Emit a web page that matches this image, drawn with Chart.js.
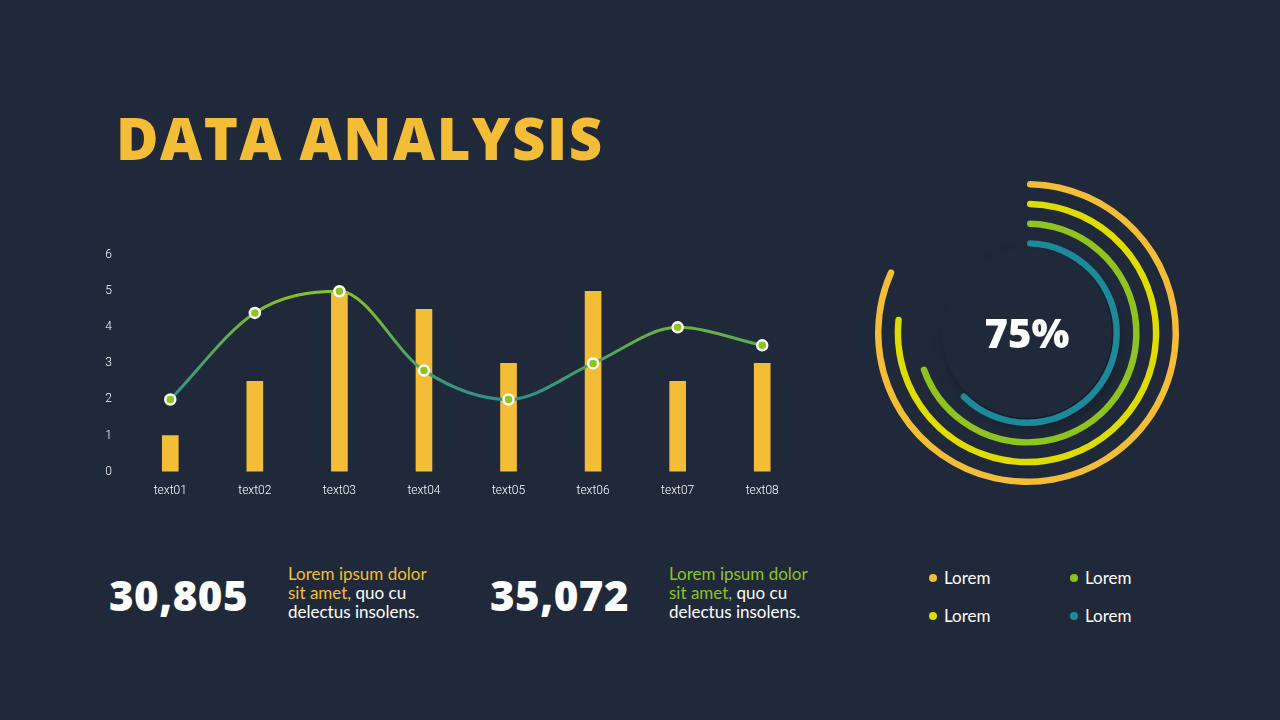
<!DOCTYPE html>
<html>
<head>
<meta charset="utf-8">
<script src="https://cdn.jsdelivr.net/npm/chart.js@4.4.0/dist/chart.umd.min.js"></script>
<style>
  body { margin:0; width:1280px; height:720px; background:#1f2939; overflow:hidden; font-family:Lato, "Open Sans", sans-serif; position:relative; }
  .title { position:absolute; left:116px; top:98px; font-family:"Open Sans", sans-serif; font-size:58px; font-weight:800; color:#f4bd38; letter-spacing:1.5px; }
  #barWrap { position:absolute; left:100px; top:240px; width:712px; height:262px; }
  #ringWrap { position:absolute; left:867px; top:173px; width:320px; height:320px; }
  .inner { position:absolute; left:942px; top:248px; width:170px; height:170px; border-radius:50%; background:#1f2939; box-shadow:6px 8px 14px rgba(0,0,0,0.35); }
  .pct { position:absolute; left:957px; top:305px; width:140px; text-align:center; font-family:"Open Sans", sans-serif; font-size:40px; font-weight:800; color:#fff; }
  .num { position:absolute; top:566px; font-family:"Open Sans", sans-serif; font-size:42px; font-weight:800; color:#fff; letter-spacing:0.5px; }
  .txt { position:absolute; top:564px; font-size:17px; line-height:19px; color:#fff; }
  .leg { position:absolute; font-size:17px; color:#fff; }
  .leg i { display:inline-block; width:8px; height:8px; border-radius:50%; margin-right:7px; vertical-align:2px; }
</style>
</head>
<body>
<div class="title">DATA ANALYSIS</div>
<div id="barWrap"><canvas id="barChart"></canvas></div>
<div class="inner"></div>
<div id="ringWrap"><canvas id="ringChart"></canvas></div>
<div class="pct">75%</div>

<div class="num" style="left:109px">30,805</div>
<div class="txt" style="left:288px"><span style="color:#f4bd38">Lorem ipsum dolor<br>sit amet,</span> quo cu<br>delectus insolens.</div>
<div class="num" style="left:490px">35,072</div>
<div class="txt" style="left:669px"><span style="color:#8fc31f">Lorem ipsum dolor<br>sit amet,</span> quo cu<br>delectus insolens.</div>

<div class="leg" style="left:929px;top:567px"><i style="background:#f4bd38"></i>Lorem</div>
<div class="leg" style="left:1070px;top:567px"><i style="background:#8fc31f"></i>Lorem</div>
<div class="leg" style="left:929px;top:605px"><i style="background:#dedc00"></i>Lorem</div>
<div class="leg" style="left:1070px;top:605px"><i style="background:#1c8a9a"></i>Lorem</div>

<script>
const categories = ['text01','text02','text03','text04','text05','text06','text07','text08'];
const barValues = [1, 2.5, 5, 4.5, 3, 5, 2.5, 3];
const lineValues = [2, 4.4, 5, 2.8, 2, 3, 4, 3.5];
const ringNames = ['Orange', 'Yellow', 'Green', 'Teal'];
const ringValues = [82, 77, 70, 63];
const ringColors = ['#f4bd38', '#dedc00', '#8fc31f', '#1c8a9a'];

document.addEventListener('DOMContentLoaded', function() {
    createBarChart();
    createRingChart();
});

function lineGradient(context) {
    const area = context.chart.chartArea;
    if (!area) return '#8fc31f';
    const g = context.chart.ctx.createLinearGradient(0, area.bottom, 0, area.top);
    g.addColorStop(0.25, '#1c8a9a');
    g.addColorStop(0.85, '#8fc31f');
    return g;
}

function createBarChart() {
    const ctx = document.getElementById('barChart').getContext('2d');
    new Chart(ctx, {
        data: {
            labels: categories,
            datasets: [{
                type: 'line',
                data: lineValues,
                borderColor: lineGradient,
                borderWidth: 3,
                cubicInterpolationMode: 'monotone',
                pointRadius: 5,
                pointBackgroundColor: '#8fc31f',
                pointBorderColor: '#ffffff',
                pointBorderWidth: 2.5,
                order: 0
            }, {
                type: 'bar',
                data: barValues,
                backgroundColor: '#f4bd38',
                barThickness: 16,
                order: 1
            }]
        },
        options: {
            responsive: true,
            maintainAspectRatio: false,
            animation: false,
            plugins: { legend: { display: false }, tooltip: { enabled: false } },
            layout: { padding: { top: 14, right: 4 } },
            scales: {
                x: {
                    grid: { display: false },
                    border: { display: false },
                    ticks: { color: '#ffffff', padding: 4, font: { size: 12, family: 'Roboto', weight: 300 } }
                },
                y: {
                    min: 0, max: 6,
                    grid: { display: false },
                    border: { display: false },
                    afterFit: axis => { axis.width = 28; },
                    ticks: { stepSize: 1, color: '#ffffff', padding: 8, font: { size: 12, family: 'Roboto', weight: 300 } }
                }
            }
        }
    });
}

function createRingChart() {
    const ctx = document.getElementById('ringChart').getContext('2d');
    const datasets = [];
    ringValues.forEach((v, i) => {
        if (i > 0) {
            datasets.push({ data: [100], backgroundColor: ['transparent'], borderWidth: 0, weight: 12.3 });
        }
        datasets.push({
            label: ringNames[i],
            data: [v, 100 - v],
            backgroundColor: [ringColors[i], 'transparent'],
            borderWidth: 0,
            borderRadius: [6, 0],
            weight: 6
        });
    });
    new Chart(ctx, {
        type: 'doughnut',
        data: { labels: ['value', 'rest'], datasets: datasets },
        options: {
            responsive: true,
            maintainAspectRatio: false,
            animation: false,
            radius: 152,
            cutout: 91,
            plugins: { legend: { display: false }, tooltip: { enabled: false } }
        }
    });
}
</script>
</body>
</html>
